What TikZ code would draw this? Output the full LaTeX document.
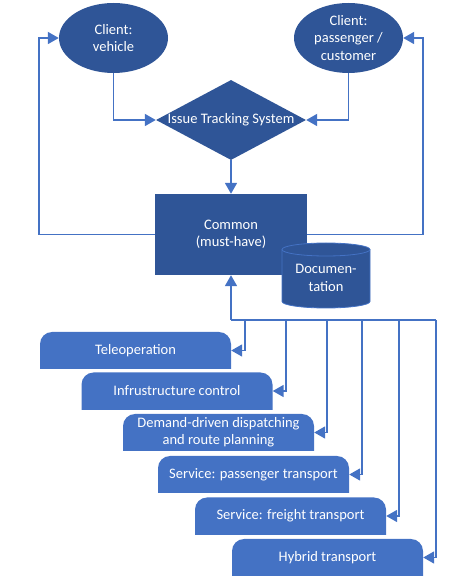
\documentclass[tikz,border=0pt]{standalone}
\usepackage{fontspec}
\setmainfont{Carlito}
\usetikzlibrary{shapes.geometric,arrows.meta}
\definecolor{darkblue}{RGB}{47,85,151}
\definecolor{boxblue}{RGB}{68,114,196}
\tikzset{
  conn/.style={draw=boxblue, line width=1.8pt, -{Triangle[length=11pt,width=12pt]}},
  plainline/.style={draw=boxblue, line width=1.8pt},
  txt/.style={text=white, font=\fontsize{14.5}{17.4}\selectfont, align=center},
  clientst/.style={ellipse, fill=darkblue, minimum width=109pt, minimum height=70pt, inner sep=0pt, txt},
  diamst/.style={diamond, fill=darkblue, minimum width=150pt, minimum height=80pt, inner sep=0pt},
  commonst/.style={rectangle, fill=darkblue, minimum width=152pt, minimum height=81pt, inner sep=0pt, txt},
  boxst/.style={rectangle, minimum width=191pt, minimum height=37pt, inner sep=0pt, txt,
    path picture={\fill[boxblue, rounded corners=12pt] ([yshift=-20pt]path picture bounding box.south west) rectangle (path picture bounding box.north east);}}
}
\begin{document}
\begin{tikzpicture}[x=1pt,y=1pt]
\useasboundingbox (0,0) rectangle (474,579);
% top shapes
\node[clientst] (veh) at (113.5,541) {Client:\\vehicle};
\node[clientst] (pass) at (348.5,541) {Client:\\passenger /\\customer};
\node[diamst, label={[txt]center:Issue Tracking System}] (its) at (231,459) {};
\node[commonst] (common) at (231,344.5) {Common\\(must-have)};
% documentation cylinder
\fill[darkblue, draw=boxblue, line width=0.8pt] (282,329.5) -- (282,277.5)
  arc[start angle=180, end angle=360, x radius=44pt, y radius=6.5pt] -- (370,329.5)
  arc[start angle=0, end angle=180, x radius=44pt, y radius=6.5pt] -- cycle;
\draw[boxblue, line width=0.8pt] (282,329.5) arc[start angle=180, end angle=360, x radius=44pt, y radius=6.5pt];
\node[txt, minimum width=88pt, minimum height=52pt, inner sep=0pt] (doc) at (326,301) {Documen-\\tation};
% boxes
\node[boxst] (b1) at (135.5,228.5) {Teleoperation};
\node[boxst] (b2) at (177,188) {Infrustructure control};
\node[boxst] (b3) at (218.5,146.5) {Demand-driven dispatching\\and route planning};
\node[boxst] (b4) at (253.5,104.5) {Service: passenger transport};
\node[boxst] (b5) at (290.5,63) {Service: freight transport};
\node[boxst] (b6) at (327.5,21.5) {Hybrid transport};
% connectors top
\draw[conn] (veh.south) |- (its.west);
\draw[conn] (pass.south) |- (its.east);
\draw[conn] (its.south) -- (common.north);
\draw[conn] (common.west) -- (39,344.5) |- (veh.west);
\draw[conn] (common.east) -- (423,344.5) |- (pass.east);
% bus
\coordinate (busL) at (231,259);
\coordinate (busR) at (436,259);
\draw[conn] (busL) -- (common.south);
\draw[plainline] (busL) -- (busR);
\draw[conn] (245,259) |- (b1.east);
\draw[conn] (286,259) |- (b2.east);
\draw[conn] (327,259) |- (b3.east);
\draw[conn] (362,259) |- (b4.east);
\draw[conn] (399,259) |- (b5.east);
\draw[conn] (busR) |- (b6.east);
\end{tikzpicture}
\end{document}
